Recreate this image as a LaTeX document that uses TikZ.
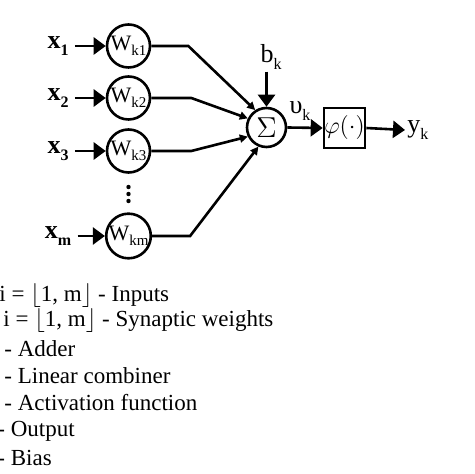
\documentclass[tikz,border=0pt]{standalone}
\usepackage{fontspec}
\setmainfont{Liberation Serif}
\usetikzlibrary{arrows.meta}
\newcommand{\subtxt}[3][8]{#2\raisebox{-0.55ex}{\fontsize{#1}{#1}\selectfont #3}}
\begin{document}
\begin{tikzpicture}[x=0.5pt,y=-0.5pt,
    link/.style={line width=1.3pt},
    bigarrow/.style={link,-{Triangle[length=6pt,width=8.5pt]}},
    smallarrow/.style={link,-{Triangle[length=4pt,width=4pt]}},
    weight/.style={circle,draw,line width=1.3pt,minimum size=21.5pt,inner sep=0pt,font=\fontsize{11}{11}\selectfont},
    lbl/.style={inner sep=1pt,font=\fontsize{13}{13}\selectfont},
    legend/.style={anchor=west,inner sep=0pt,font=\fontsize{11.5}{12}\selectfont}]
    \useasboundingbox (0,0) rectangle (474,474);
    % inputs and weights
    \foreach \i/\y in {1/46,2/98,3/151,m/236}{
        \node[lbl] (x\i) at (58,\y) {\subtxt{\textbf{x}}{\textbf{\i}}};
        \node[weight] (w\i) at (128.5,\y) {\subtxt[7.5]{W}{k\i}};
        \draw[bigarrow] (x\i.east) ++(4,0) -- (w\i.west);
    }
    \foreach \y in {187,194,201}
        \fill (128.5,\y) circle (1.1pt);
    % adder
    \node[circle,draw,line width=1.3pt,minimum size=19.5pt,inner sep=0pt,font=\fontsize{15}{15}\selectfont] (sum) at (266.5,127.5) {$\Sigma$};
    \draw[smallarrow] (w1.east) -- ++(37,0) -- (sum.123);
    \draw[smallarrow] (w2.east) -- ++(40,0) -- (sum.154);
    \draw[smallarrow] (w3.east) -- ++(40,0) -- (sum.206);
    \draw[smallarrow] (wm.east) -- ++(38,0) -- (sum.247);
    % bias
    \node[lbl] (b) at (271,57) {\subtxt{b}{k}};
    \draw[bigarrow] (sum.north |- b.south) -- (sum.north);
    % activation
    \node[lbl] (v) at (300,111) {\subtxt{υ}{k}};
    \node[draw,line width=1.3pt,minimum width=20.5pt,minimum height=20pt,inner sep=0pt,font=\fontsize{11.5}{11.5}\selectfont] (phi) at (344.5,128) {$\varphi(\cdot)$};
    \draw[bigarrow] (sum.east) -- (phi.west);
    \node[lbl,anchor=west] (y) at (405,130) {\subtxt{y}{k}};
    \draw[bigarrow] (phi.east) -- (y.west);
    % legend
    \node[legend] (leg1) at (-1,295) {i = $\lfloor$1, m$\rfloor$ - Inputs};
    \node[legend] (leg2) at (3,321) {i = $\lfloor$1, m$\rfloor$ - Synaptic weights};
    \node[legend] (leg3) at (4,349) {- Adder};
    \node[legend] (leg4) at (4,376) {- Linear combiner};
    \node[legend] (leg5) at (4,403) {- Activation function};
    \node[legend] (leg6) at (-3,431) {- Output};
    \node[legend] (leg7) at (-3,458) {- Bias};
\end{tikzpicture}
\end{document}
